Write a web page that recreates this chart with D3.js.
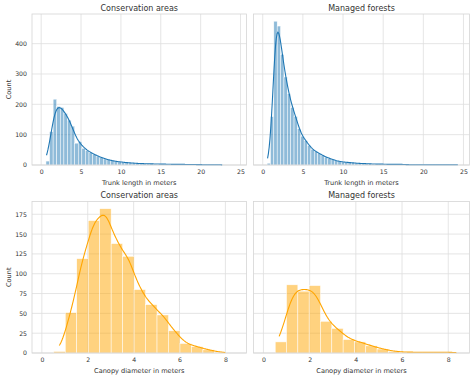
<!DOCTYPE html>
<html><head><meta charset="utf-8">
<script src="https://cdn.jsdelivr.net/npm/d3@7"></script>
<style>body{margin:0;background:#fff}svg{display:block;font-family:"DejaVu Sans",sans-serif}</style>
</head><body><svg id="c" width="474" height="378"></svg>
<script>
// ---- data ----
const panelTitles = ["Conservation areas", "Managed forests"];
const xLabels = ["Trunk length in meters", "Canopy diameter in meters"];
const yLabel = "Count";
const trunkTicksX = [0, 5, 10, 15, 20, 25];
const trunkTicksY = [0, 100, 200, 300, 400];
const canopyTicksX = [0, 2, 4, 6, 8];
const canopyTicksY = [0, 25, 50, 75, 100, 125, 150, 175];

// histogram: first bin edge, bin width, counts, data min/max, kde bandwidth adjust
const trunkConsBins = {start: 0.6, width: 0.45, min: 0.67, max: 22.7, bwAdjust: 0.72};
const trunkConsCounts = [13,110,217,193,190,170,148,128,72,78,55,48,41,35,29,24,20,17,14,12,10,9,8,7,6,5,5,4,4,4,3,3,3,3,2,2,2,2,2,2,1,2,1,1,1,1,1,1,1];
const trunkManBins = {start: 0.54, width: 0.42, min: 0.6, max: 24.3, bwAdjust: 0.6};
const trunkManCounts = [6,160,474,458,365,290,235,190,160,120,95,80,65,52,44,38,32,26,22,18,14,12,10,9,8,7,6,5,5,4,4,3,3,3,3,2,2,2,2,2,2,1,1,1,1,1,1,1,1,1,1,1,1,1,1,1,1];
const canopyConsBins = {start: 0.52, width: 0.5, min: 0.76, max: 8.0, bwAdjust: 0.95};
const canopyConsCounts = [2,51,119,167,182,138,122,80,61,48,28,12,8,4,1];
const canopyManBins = {start: 0.51, width: 0.49, min: 0.68, max: 8.35, bwAdjust: 1.0};
const canopyManCounts = [14,86,78,85,40,31,17,14,9,5,2,1,1,1,1,1];

const blue = "#1f77b4", orange = "#ffa500";
const svg = d3.select("#c");

function kde(bins, counts, n) {
  const N = d3.sum(counts);
  const centers = counts.map((c, i) => bins.start + (i + 0.5) * bins.width);
  const mean = d3.sum(counts.map((c, i) => c * centers[i])) / N;
  const vr = d3.sum(counts.map((c, i) => c * (centers[i] - mean) ** 2)) / (N - 1);
  const h = Math.sqrt(vr) * Math.pow(N, -0.2) * bins.bwAdjust;
  return d3.range(n).map(k => {
    const x = bins.min + (bins.max - bins.min) * k / (n - 1);
    let s = 0;
    counts.forEach((c, i) => { const z = (x - centers[i]) / h; s += c * Math.exp(-0.5 * z * z); });
    return [x, s / (h * Math.sqrt(2 * Math.PI)) * bins.width];
  });
}

function panel(o) {
  const g = svg.append("g");
  const x = d3.scaleLinear().domain(o.xdom).range([o.x0, o.x1]);
  const y = d3.scaleLinear().domain(o.ydom).range([o.y1, o.y0]);
  g.append("g").selectAll("line").data(o.xticks).join("line")
    .attr("x1", d => x(d)).attr("x2", d => x(d)).attr("y1", o.y0).attr("y2", o.y1)
    .attr("stroke", "#dedede").attr("stroke-width", 0.8);
  g.append("g").selectAll("line").data(o.yticks).join("line")
    .attr("y1", d => y(d)).attr("y2", d => y(d)).attr("x1", o.x0).attr("x2", o.x1)
    .attr("stroke", "#dedede").attr("stroke-width", 0.8);
  g.append("g").selectAll("rect").data(o.counts).join("rect")
    .attr("x", (d, i) => x(o.bins.start + i * o.bins.width))
    .attr("width", x(o.bins.width) - x(0))
    .attr("y", d => y(d)).attr("height", d => y(0) - y(d))
    .attr("fill", o.color).attr("fill-opacity", 0.5)
    .attr("stroke", "#fff").attr("stroke-width", 0.5);
  const pts = kde(o.bins, o.counts, 240);
  g.append("path").datum(pts)
    .attr("d", d3.line().x(d => x(d[0])).y(d => y(d[1])))
    .attr("fill", "none").attr("stroke", o.color).attr("stroke-width", 1.1);
  g.append("rect").attr("x", o.x0).attr("y", o.y0).attr("width", o.x1 - o.x0).attr("height", o.y1 - o.y0)
    .attr("fill", "none").attr("stroke", "#d5d5d5").attr("stroke-width", 0.8);
  const ax = d3.axisBottom(x).tickValues(o.xticks).tickSize(0).tickPadding(5);
  const axg = g.append("g").attr("transform", `translate(0,${o.y1})`).call(ax);
  axg.select(".domain").remove();
  axg.selectAll("text").attr("font-size", 6.2).attr("fill", "#333").attr("font-family", "DejaVu Sans");
  if (o.showY) {
    const ay = d3.axisLeft(y).tickValues(o.yticks).tickSize(0).tickPadding(5);
    const ayg = g.append("g").attr("transform", `translate(${o.x0},0)`).call(ay);
    ayg.select(".domain").remove();
    ayg.selectAll("text").attr("font-size", 6.2).attr("fill", "#333").attr("font-family", "DejaVu Sans");
    g.append("text").attr("transform", `translate(10.5,${(o.y0 + o.y1) / 2}) rotate(-90)`)
      .attr("text-anchor", "middle").attr("font-size", 6.6).attr("fill", "#333").text(yLabel);
  }
  g.append("text").attr("x", (o.x0 + o.x1) / 2).attr("y", o.y1 + 19.5)
    .attr("text-anchor", "middle").attr("font-size", 6.6).attr("fill", "#333").text(o.xlabel);
  g.append("text").attr("x", (o.x0 + o.x1) / 2).attr("y", o.y0 - 3.5)
    .attr("text-anchor", "middle").attr("font-size", 8).attr("fill", "#333").text(o.title);
}

const trunkMax = d3.max([...trunkConsCounts, ...trunkManCounts]) * 1.05;
const canopyMax = d3.max([...canopyConsCounts, ...canopyManCounts]) * 1.05;
const topX = [-1.15, 25.75], botX = [-0.43, 8.92];

panel({x0: 32, x1: 246.5, y0: 14, y1: 165, xdom: topX, ydom: [0, trunkMax], xticks: trunkTicksX, yticks: trunkTicksY,
  showY: true, title: panelTitles[0], xlabel: xLabels[0], bins: trunkConsBins, counts: trunkConsCounts, color: blue});
panel({x0: 253.5, x1: 469.5, y0: 14, y1: 165, xdom: topX, ydom: [0, trunkMax], xticks: trunkTicksX, yticks: trunkTicksY,
  showY: false, title: panelTitles[1], xlabel: xLabels[0], bins: trunkManBins, counts: trunkManCounts, color: blue});
panel({x0: 32, x1: 246.5, y0: 201.5, y1: 353, xdom: botX, ydom: [0, canopyMax], xticks: canopyTicksX, yticks: canopyTicksY,
  showY: true, title: panelTitles[0], xlabel: xLabels[1], bins: canopyConsBins, counts: canopyConsCounts, color: orange});
panel({x0: 253.5, x1: 469.5, y0: 201.5, y1: 353, xdom: botX, ydom: [0, canopyMax], xticks: canopyTicksX, yticks: canopyTicksY,
  showY: false, title: panelTitles[1], xlabel: xLabels[1], bins: canopyManBins, counts: canopyManCounts, color: orange});
</script></body></html>
